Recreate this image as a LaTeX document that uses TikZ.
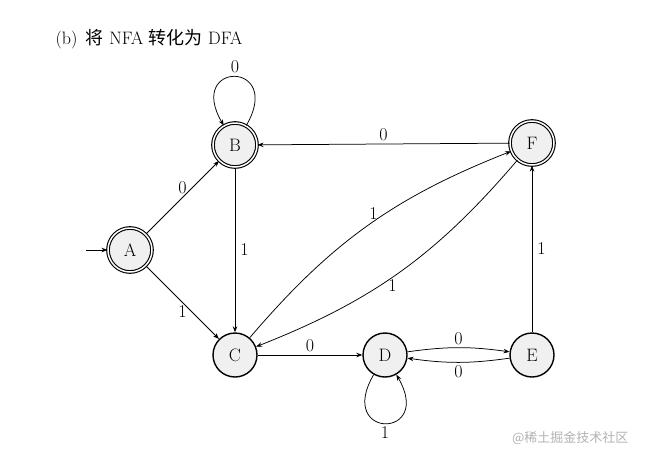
\documentclass[tikz,border=0pt]{standalone}
\usepackage{fontspec}
\newfontfamily\cjk{Noto Sans CJK SC}
\usetikzlibrary{arrows.meta}
\begin{document}
\begin{tikzpicture}[x=1pt,y=1pt,
  every node/.style={font=\fontsize{18pt}{21pt}\selectfont},
  state/.style={circle,draw,line width=1.4pt,fill=gray!12,minimum size=44pt,inner sep=0pt},
  accept/.style={circle,draw,line width=1.1pt,double,double distance=1.5pt,fill=gray!12,minimum size=44pt,inner sep=0pt},
  edge/.style={line width=0.75pt,-{Stealth[length=6pt,width=4.5pt]}},
  lbl/.style={inner sep=3pt}]
\useasboundingbox (0,0) rectangle (645,-459);
\node[anchor=base west] (title) at (52,-44) {(b)\, {\cjk 将} NFA {\cjk 转化为} DFA};
\node[accept] (A) at (130,-250) {A};
\node[accept] (B) at (235,-145) {B};
\node[state] (C) at (235,-355) {C};
\node[state] (D) at (385,-355) {D};
\node[state] (E) at (532,-355) {E};
\node[accept] (F) at (532,-143) {F};
\coordinate (start) at (86,-250);
\draw[edge] (start) -- (A);
\draw[edge] (A) -- node[lbl,midway,above] (l1) {0} (B);
\draw[edge] (A) -- node[lbl,midway,below] (l2) {1} (C);
\draw[edge] (B.60) .. controls +(38,65) and +(-38,65) .. node[lbl,pos=0.5,above,inner sep=4pt] (l3) {0} (B.120);
\draw[edge] (B) -- node[lbl,midway,right,inner sep=5pt] (l4) {1} (C);
\draw[edge] (F) -- node[lbl,midway,above] (l5) {0} (B);
\draw[edge] (C) to[bend left=14] node[lbl,pos=0.54,above left=-4pt] (l6) {1} (F);
\draw[edge] (F) to[bend left=14] node[lbl,pos=0.53,below,inner sep=2pt] (l7) {1} (C);
\draw[edge] (C) -- node[lbl,midway,above] (l8) {0} (D);
\draw[edge] (D) to[bend left=8] node[lbl,midway,above] (l9) {0} (E);
\draw[edge] (E) to[bend left=8] node[lbl,midway,below] (l10) {0} (D);
\draw[edge] (D.240) .. controls +(-38,-65) and +(38,-65) .. node[lbl,pos=0.5,below] (l11) {1} (D.300);
\draw[edge] (E) -- node[lbl,midway,right,inner sep=5pt] (l12) {1} (F);
\node[anchor=east,text=gray!60,font=\cjk\fontsize{13pt}{15pt}\selectfont] (wm) at (632,-438) {@稀土掘金技术社区};
\end{tikzpicture}
\end{document}
